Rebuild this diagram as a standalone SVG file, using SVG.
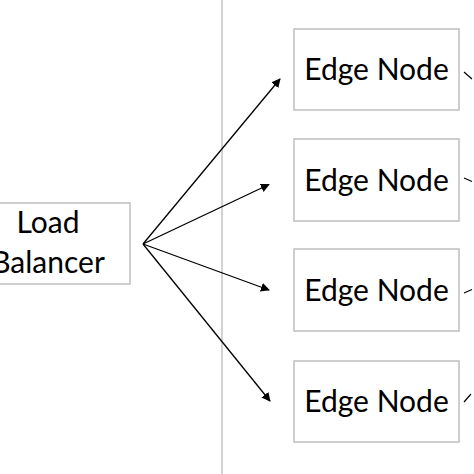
<svg xmlns="http://www.w3.org/2000/svg" width="474" height="474" viewBox="0 0 474 474">
<style>
.box{fill:#fff;stroke:#bfbfbf;stroke-width:1.5}
.lbl{font-family:Lato,"Liberation Sans",sans-serif;font-size:30px;fill:#000;text-anchor:middle}
.arr{stroke:#000;stroke-width:1.3;fill:none}
.tail{stroke:#000;stroke-width:1.2;fill:none}
</style>
<defs>
<marker id="ah" viewBox="0 0 10 10" refX="9" refY="5" markerWidth="9" markerHeight="9" markerUnits="userSpaceOnUse" orient="auto">
<path d="M0,0 L10,5 L0,10 z" fill="#000"/>
</marker>
</defs>
<rect width="474" height="474" fill="#fff"/>
<line x1="222" y1="0" x2="222" y2="474" stroke="#c4c4c4" stroke-width="1.5"/>
<g id="load-balancer">
<rect class="box" x="-34" y="203" width="164" height="81"/>
<text class="lbl" x="48" y="233">Load</text>
<text class="lbl" x="48" y="273">Balancer</text>
</g>
<g id="edge-node-1">
<rect class="box" x="294" y="29" width="165" height="81"/>
<text class="lbl" x="376.5" y="80">Edge Node</text>
</g>
<g id="edge-node-2">
<rect class="box" x="294" y="139" width="165" height="82"/>
<text class="lbl" x="376.5" y="191">Edge Node</text>
</g>
<g id="edge-node-3">
<rect class="box" x="294" y="249" width="165" height="82"/>
<text class="lbl" x="376.5" y="301">Edge Node</text>
</g>
<g id="edge-node-4">
<rect class="box" x="294" y="361" width="165" height="81"/>
<text class="lbl" x="376.5" y="412">Edge Node</text>
</g>
<g id="connectors">
<line class="arr" x1="143" y1="244" x2="280" y2="79" marker-end="url(#ah)"/>
<line class="arr" x1="143" y1="244" x2="269" y2="184.5" marker-end="url(#ah)"/>
<line class="arr" x1="143" y1="244" x2="269" y2="290" marker-end="url(#ah)"/>
<line class="arr" x1="143" y1="244" x2="270" y2="401" marker-end="url(#ah)"/>
<line class="tail" x1="464" y1="72" x2="472" y2="79"/>
<line class="tail" x1="464" y1="178" x2="472" y2="181.5"/>
<line class="tail" x1="464" y1="293" x2="472" y2="289.5"/>
<line class="tail" x1="464" y1="402" x2="471" y2="394"/>
</g>
</svg>
